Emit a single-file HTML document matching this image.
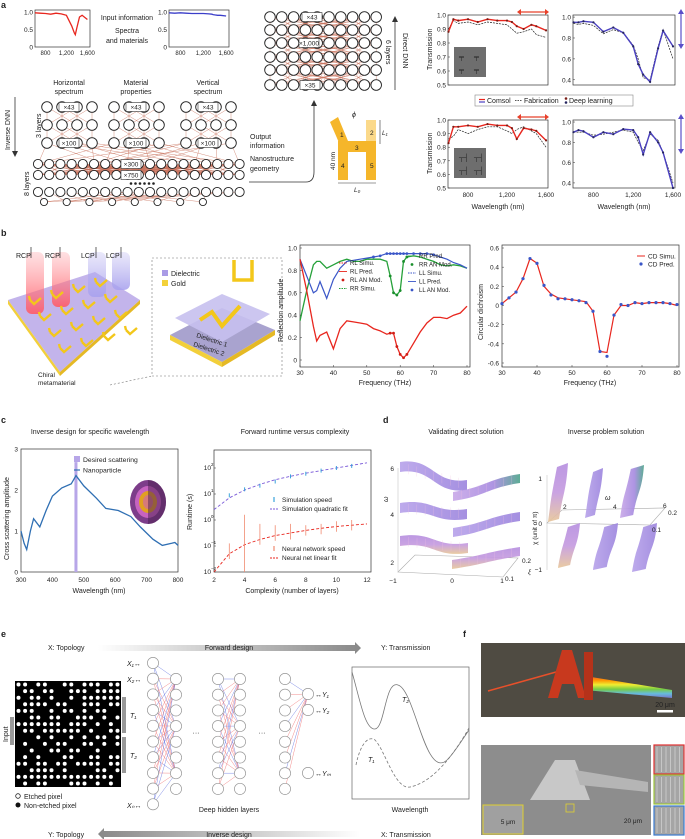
<!DOCTYPE html>
<html><head><meta charset="utf-8"><style>
html,body{margin:0;padding:0;background:#fff}
svg{display:block;font-family:"Liberation Sans",sans-serif}
text{fill:#222}
</style></head><body>
<svg id="fig" width="685" height="839" viewBox="0 0 685 839" xmlns="http://www.w3.org/2000/svg">
<defs>
<linearGradient id="gfwd" x1="0" x2="1"><stop offset="0" stop-color="#fff"/><stop offset="1" stop-color="#888"/></linearGradient>
<linearGradient id="ginv" x1="0" x2="1"><stop offset="0" stop-color="#888"/><stop offset="1" stop-color="#fff"/></linearGradient>
<linearGradient id="gred" x1="0" y1="0" x2="0" y2="1"><stop offset="0" stop-color="#ff9aa0" stop-opacity=".3"/><stop offset="1" stop-color="#ff5a66" stop-opacity=".9"/></linearGradient>
<linearGradient id="gblue" x1="0" y1="0" x2="0" y2="1"><stop offset="0" stop-color="#b9b4f0" stop-opacity=".3"/><stop offset="1" stop-color="#a9a2ee" stop-opacity=".9"/></linearGradient>
<linearGradient id="gsurf" x1="0" x2="1"><stop offset="0" stop-color="#c9a9e8"/><stop offset=".6" stop-color="#a78be0"/><stop offset="1" stop-color="#4fa58c"/></linearGradient>
<linearGradient id="gsurf2" x1="0" y1="1" x2="0" y2="0"><stop offset="0" stop-color="#e8c79a"/><stop offset=".5" stop-color="#c59be0"/><stop offset="1" stop-color="#b68fe0"/></linearGradient>
<linearGradient id="gsurf3" x1="0" x2="1"><stop offset="0" stop-color="#b8a3ea"/><stop offset="1" stop-color="#9d86de"/></linearGradient>
<linearGradient id="grain" x1="0" y1="0" x2="0" y2="1"><stop offset="0" stop-color="#e53"/><stop offset=".2" stop-color="#f90"/><stop offset=".4" stop-color="#ee3"/><stop offset=".6" stop-color="#7c4"/><stop offset=".8" stop-color="#6bd"/><stop offset="1" stop-color="#77c"/></linearGradient>
</defs>
<g id="labels" font-weight="bold" font-size="9">
<text x="1" y="8">a</text>
<text x="1" y="236">b</text>
<text x="1" y="423">c</text>
<text x="383" y="423">d</text>
<text x="1" y="637">e</text>
<text x="463" y="637">f</text>
</g>
<g id="root"></g>
</svg>
<script>
// ---------- DATA ----------
const smallWl=[600,700,800,900,1000,1100,1200,1300,1350,1370,1400,1450,1500,1600];
const smallRed=[0.97,0.96,0.95,0.93,0.96,0.94,0.9,0.6,0.4,0.35,0.55,0.85,0.9,0.78];
const smallBlue=[0.97,0.96,0.97,0.96,0.95,0.95,0.95,0.94,0.93,0.92,0.91,0.9,0.9,0.88];
const aWl=[600,650,700,800,900,1000,1100,1200,1250,1300,1370,1450,1500,1600];
const aTLred=[0.88,0.97,0.96,0.97,0.95,0.97,0.96,0.96,0.95,0.92,0.9,0.93,0.92,0.89];
const aTLfab=[0.9,0.96,0.94,0.95,0.93,0.95,0.94,0.93,0.9,0.87,0.88,0.9,0.86,0.84];
const aTRblue=[0.95,0.95,0.96,0.95,0.86,0.9,0.85,0.72,0.55,0.45,0.38,0.7,0.87,0.72];
const aTRfab=[0.94,0.93,0.94,0.92,0.84,0.88,0.85,0.73,0.6,0.42,0.4,0.72,0.88,0.6];
const aBLred=[0.83,0.95,0.95,0.96,0.95,0.97,0.96,0.96,0.94,0.86,0.94,0.93,0.92,0.85];
const aBLfab=[0.86,0.88,0.93,0.9,0.93,0.95,0.95,0.92,0.9,0.93,0.95,0.92,0.9,0.8];
const aBRblue=[0.9,0.92,0.91,0.85,0.9,0.88,0.93,0.92,0.85,0.68,0.9,0.8,0.7,0.35];
const aBRfab=[0.9,0.9,0.9,0.87,0.88,0.9,0.92,0.9,0.8,0.72,0.88,0.82,0.7,0.4];
const tickWl=[800,1200,1600];
const tickWlLabels=["800","1,200","1,600"];

const bFreq=[30,32,34,35,36,38,40,42,44,46,48,50,52,54,56,57,58,59,60,61,62,64,66,68,70,72,74,76,78,80];
const bRL=[0.9,0.62,0.3,0.17,0.22,0.25,0.1,0.28,0.35,0.34,0.33,0.32,0.28,0.26,0.23,0.24,0.24,0.12,0.05,0.02,0.05,0.15,0.25,0.33,0.38,0.38,0.37,0.4,0.42,0.48];
const bRR=[0.35,0.62,0.85,0.88,0.88,0.82,0.85,0.88,0.9,0.88,0.88,0.9,0.9,0.9,0.88,0.75,0.6,0.58,0.62,0.88,0.92,0.93,0.92,0.9,0.88,0.85,0.84,0.85,0.84,0.82];
const bLL=[0.9,0.75,0.6,0.62,0.7,0.55,0.72,0.82,0.88,0.89,0.9,0.91,0.92,0.93,0.95,0.95,0.95,0.95,0.95,0.95,0.95,0.95,0.95,0.95,0.94,0.92,0.9,0.87,0.85,0.82];
const cdFreq=[30,32,34,36,38,40,42,44,46,48,50,52,54,56,58,60,62,64,66,68,70,72,74,76,78,80];
const cdSim=[0.02,0.08,0.14,0.28,0.49,0.44,0.2,0.12,0.08,0.07,0.06,0.05,0.04,-0.06,-0.48,-0.49,-0.1,0.0,0.0,0.03,0.02,0.03,0.03,0.03,0.02,0.0];
const cdPred=[0.02,0.08,0.14,0.28,0.49,0.44,0.21,0.11,0.07,0.07,0.06,0.05,0.03,-0.06,-0.48,-0.53,-0.1,0.01,0.0,0.03,0.02,0.03,0.03,0.03,0.02,0.01];

const cWl=[300,310,318,330,340,360,380,400,430,460,475,500,540,570,610,650,680,720,750,780,790,800];
const cScat=[1.0,0.7,0.55,1.0,1.3,1.1,1.5,1.85,2.05,2.15,2.35,2.1,1.8,1.55,1.5,1.35,1.1,0.8,0.65,0.7,0.72,0.65];
const cDesiredWl=475, cDesiredAmp=2.68;
const rtLayers=[2,3,4,5,6,7,8,9,10,11,12];
const rtSimFit=[0.4,0.85,1.15,1.37,1.55,1.68,1.8,1.9,2.0,2.1,2.2];
const rtNNFit=[-2,-1.3,-0.95,-0.75,-0.6,-0.5,-0.4,-0.32,-0.25,-0.2,-0.15];
const rtSimPts=[3,4,5,6,7,8,9,10,11];
const rtSimVals=[0.95,1.18,1.32,1.48,1.68,1.78,1.9,2.0,2.08];
const rtNNVals=[-1.2,-0.9,-0.55,-0.5,-0.45,-0.4,-0.35,-0.25,-0.2];
const rtNNErr=[0.3,1.1,0.4,0.3,0.3,0.2,0.2,0.2,0.2];

// ---------- HELPERS ----------
const NS="http://www.w3.org/2000/svg";
const root=document.getElementById('root');
function el(tag,attrs,parent){const e=document.createElementNS(NS,tag);for(const k in attrs)e.setAttribute(k,attrs[k]);(parent||root).appendChild(e);return e;}
function txt(x,y,s,attrs,parent){const t=el('text',Object.assign({x:x,y:y,'font-size':7},attrs||{}),parent);t.textContent=s;return t;}
function lin(d0,d1,r0,r1){return v=>r0+(v-d0)*(r1-r0)/(d1-d0);}
function poly(xs,ys,sx,sy,attrs,parent){let d='';for(let i=0;i<xs.length;i++)d+=(i?'L':'M')+sx(xs[i]).toFixed(1)+' '+sy(ys[i]).toFixed(1);return el('path',Object.assign({d:d,fill:'none'},attrs),parent);}
function box(x0,y0,x1,y1,parent){return el('rect',{x:x0,y:y0,width:x1-x0,height:y1-y0,fill:'none',stroke:'#333','stroke-width':0.7},parent);}

// ---------- PANEL A ----------
const gA=el('g',{});


function smallPlot(x0,x1,ys,color,name){
  const g=el('g',{},gA);
  
  
  const sx=lin(600,1650,x0,x1), sy=lin(0,1.05,47,10);
  box(x0,10,x1,47,g);
  [[1,'1.0'],[0.5,'0.5'],[0,'0']].forEach(t=>{txt(x0-2,sy(t[0])+2.5,t[1],{'text-anchor':'end','font-size':6.5},g);});
  tickWl.forEach((w,i)=>txt(sx(w),55,tickWlLabels[i],{'text-anchor':'middle','font-size':6},g));
  poly(smallWl,ys,sx,sy,{stroke:color,'stroke-width':1.3},g);
}
smallPlot(35,90,smallRed,'#e8261e','input-spectrum-horizontal');
smallPlot(169,229,smallBlue,'#3b3ec9','input-spectrum-vertical');
txt(127,20,'Input information',{'text-anchor':'middle'},gA);
txt(127,33,'Spectra',{'text-anchor':'middle'},gA);
txt(127,43,'and materials',{'text-anchor':'middle'},gA);

function circleRow(cx0,dx,n,cy,r,parent){for(let i=0;i<n;i++)el('circle',{cx:cx0+i*dx,cy:cy,r:r,fill:'#fff',stroke:'#222','stroke-width':0.9},parent);}
function linksRows(xs0,dx0,n0,y0,xs1,dx1,n1,y1,parent,col){for(let i=0;i<n0;i++)for(let j=0;j<n1;j+=1){if((i+j)%3)continue;el('line',{x1:xs0+i*dx0,y1:y0,x2:xs1+j*dx1,y2:y1,stroke:col||'#c9745e','stroke-width':0.4},parent);}}
function labelBox(cx,cy,s,parent){el('rect',{x:cx-10,y:cy-4.5,width:20,height:9,fill:'#fff',stroke:'#333','stroke-width':0.6},parent);txt(cx,cy+2.5,s,{'text-anchor':'middle','font-size':6.5},parent);}
const gD=el('g',{},gA);


const dRows=[17,30,43,57,70,85];
for(let r=0;r<dRows.length-1;r++)linksRows(270,11.8,10,dRows[r],270,11.8,10,dRows[r+1],gD);
dRows.forEach(y=>circleRow(270,11.8,10,y,5.3,gD));
labelBox(312,17,'×43',gD);labelBox(309,43,'×1,000',gD);labelBox(310,85,'×35',gD);
el('line',{x1:395,y1:90,x2:395,y2:20,stroke:'#333','stroke-width':0.8},gA);
el('path',{d:'M392 22 L395 16 L398 22Z',fill:'#333'},gA);
txt(0,0,'Direct DNN',{transform:'translate(403,33) rotate(90)'},gA);
txt(0,0,'6 layers',{transform:'translate(386,40) rotate(90)'},gA);
const gI=el('g',{},gA);


[['Horizontal',69],['Material',136],['Vertical',208]].forEach(h=>txt(h[1],85,h[0],{'text-anchor':'middle'},gI));
txt(69,94,'spectrum',{'text-anchor':'middle'},gI);txt(136,94,'properties',{'text-anchor':'middle'},gI);txt(208,94,'spectrum',{'text-anchor':'middle'},gI);
const grpX=[47,114,186], gRows=[107,125,143];
const bigRows=[164,175,192];
grpX.forEach(gx=>{for(let i=0;i<3;i++)for(let a=0;a<4;a++)for(let b=0;b<4;b++)if((a+b)%2==0)el('line',{x1:gx+a*15,y1:gRows[i],x2:i<2?gx+b*15:38+(a*5+b*3)%19*11.2,y2:gRows[i+1]||bigRows[0],stroke:'#c9745e','stroke-width':0.4},gI);});
linksRows(38,11.2,19,bigRows[0],38,11.2,19,bigRows[1],gI);
for(let j=0;j<19;j++)el('line',{x1:38+j*11.2,y1:bigRows[2],x2:44+(j%8)*22.7,y2:202,stroke:'#c9745e','stroke-width':0.4},gI);
grpX.forEach(gx=>{gRows.forEach(y=>circleRow(gx,15,4,y,5.3,gI));labelBox(gx+22,107,'×43',gI);labelBox(gx+22,143,'×100',gI);});
bigRows.forEach(y=>circleRow(38,11.2,19,y,4.6,gI));
for(let i=0;i<6;i++)el('circle',{cx:131+i*4.5,cy:183.5,r:1.3,fill:'#222'},gI);
labelBox(131,164,'×300',gI);labelBox(131,175,'×750',gI);
circleRow(44,22.7,8,202,3.6,gI);
txt(0,0,'Inverse DNN',{transform:'translate(10,150) rotate(-90)'},gA);
el('line',{x1:15,y1:97,x2:15,y2:153,stroke:'#333','stroke-width':0.8},gA);
el('path',{d:'M12 151 L15 157 L18 151Z',fill:'#333'},gA);
txt(0,0,'3 layers',{transform:'translate(41,138) rotate(-90)'},gA);
txt(0,0,'8 layers',{transform:'translate(29,196) rotate(-90)'},gA);
txt(250,139,'Output',{},gA);txt(250,148,'information',{},gA);txt(250,161,'Nanostructure',{},gA);txt(250,171,'geometry',{},gA);
el('path',{d:'M249 182 L306 182 Q314 182 314 172 L314 104',fill:'none',stroke:'#333','stroke-width':0.8},gA);
el('path',{d:'M311 106 L314 100 L317 106Z',fill:'#333'},gA);
const gH=el('g',{},gA);


el('path',{d:'M330 122 L338 117 L348 141 L340 145Z',fill:'#f5b62a'},gH);
el('rect',{x:366,y:120,width:10,height:24,fill:'#fbd98a'},gH);
el('rect',{x:338,y:141,width:38,height:11,fill:'#f5b62a'},gH);
el('rect',{x:338,y:152,width:10,height:28,fill:'#f5b62a'},gH);
el('rect',{x:366,y:152,width:10,height:28,fill:'#f5b62a'},gH);
[['1',340,137],['2',370,135],['3',355,150],['4',341,168],['5',370,168]].forEach(t=>txt(t[1],t[2],t[0],{'font-size':6.5},gH));
txt(352,117,'ϕ',{'font-size':7,'font-style':'italic'},gH);
txt(0,0,'40 nm',{transform:'translate(335,170) rotate(-90)','font-size':6.5},gH);
el('line',{x1:338,y1:183,x2:376,y2:183,stroke:'#333','stroke-width':0.6},gH);
txt(354,192,'L₀',{'font-size':6.5,'font-style':'italic'},gH);
el('line',{x1:380,y1:120,x2:380,y2:144,stroke:'#333','stroke-width':0.6},gH);
txt(382,135,'L₁',{'font-size':6.5,'font-style':'italic'},gH);

function tPlot(x0,x1,y0,y1,vmin,vmax,ticks,sim,fab,dl,color,name,showX,showY){
  const g=el('g',{},gA);
  
  
  const sx=lin(595,1620,x0,x1), sy=lin(vmin,vmax,y1,y0);
  box(x0,y0,x1,y1,g);
  ticks.forEach(t=>{txt(x0-2,sy(t)+2.5,t.toFixed(1),{'text-anchor':'end','font-size':6.5},g);el('line',{x1:x0,y1:sy(t),x2:x0+2,y2:sy(t),stroke:'#333','stroke-width':0.5},g);});
  if(showX)tickWl.forEach((w,i)=>txt(sx(w),y1+9,tickWlLabels[i],{'text-anchor':'middle','font-size':6.5},g));
  poly(aWl,fab,sx,sy,{stroke:'#222','stroke-width':0.7,'stroke-dasharray':'2,1'},g);
  poly(aWl,sim,sx,sy,{stroke:color,'stroke-width':1.4},g);
  aWl.forEach((w,i)=>el('circle',{cx:sx(w),cy:sy(dl[i]),r:1.1,fill:color=='#e8261e'?'#7a1d16':'#25255e'},g));
  if(showY)txt(0,0,'Transmission',{transform:`translate(${x0-16},${(y0+y1)/2+20}) rotate(-90)`},g);
  return g;
}
tPlot(448,548,15,85,0.5,1.0,[1.0,0.9,0.8,0.7,0.6,0.5],aTLred,aTLfab,aTLred,'#e8261e','transmission-plot-tl',false,true);
tPlot(573,675,15,85,0.35,1.02,[1.0,0.8,0.6,0.4],aTRblue,aTRfab,aTRblue,'#4a40c0','transmission-plot-tr',false,false);
tPlot(448,548,120,188,0.5,1.0,[1.0,0.9,0.8,0.7,0.6,0.5],aBLred,aBLfab,aBLred,'#e8261e','transmission-plot-bl',true,true);
tPlot(573,675,120,188,0.35,1.02,[1.0,0.8,0.6,0.4],aBRblue,aBRfab,aBRblue,'#4a40c0','transmission-plot-br',true,false);
txt(498,209,'Wavelength (nm)',{'text-anchor':'middle'},gA);txt(624,209,'Wavelength (nm)',{'text-anchor':'middle'},gA);
[[454,47],[454,148]].forEach((p,i)=>{const r=el('rect',{x:p[0],y:p[1],width:32,height:30,fill:'#6e6e6e'},gA);for(let a=0;a<2;a++)for(let b=0;b<2;b++)txt(p[0]+5+a*15,p[1]+12+b*13,i?'┬┤':'╤',{'font-size':7,fill:'#eee'},gA);});
[[4],[109]].forEach(q=>{el('line',{x1:521,y1:q[0]+8,x2:545,y2:q[0]+8,stroke:'#e8402a','stroke-width':1.2},gA);el('path',{d:`M521 ${q[0]+5} L517 ${q[0]+8} L521 ${q[0]+11}Z M545 ${q[0]+5} L549 ${q[0]+8} L545 ${q[0]+11}Z`,fill:'#e8402a'},gA);
el('line',{x1:681,y1:q[0]+10,x2:681,y2:q[0]+40,stroke:'#5a4fc9','stroke-width':1.2},gA);el('path',{d:`M678 ${q[0]+10} L681 ${q[0]+5} L684 ${q[0]+10}Z M678 ${q[0]+40} L681 ${q[0]+45} L684 ${q[0]+40}Z`,fill:'#5a4fc9'},gA);});
const lg=el('g',{},gA);


el('rect',{x:475,y:95,width:158,height:11,fill:'#fff',stroke:'#888','stroke-width':0.6},lg);
el('line',{x1:479,y1:99.5,x2:485,y2:99.5,stroke:'#e8261e','stroke-width':1.2},lg);el('line',{x1:479,y1:102,x2:485,y2:102,stroke:'#4a40c0','stroke-width':1.2},lg);
txt(487,103,'Comsol',{},lg);
el('line',{x1:515,y1:100.5,x2:522,y2:100.5,stroke:'#222','stroke-width':0.8,'stroke-dasharray':'1.5,1'},lg);
txt(524,103,'Fabrication',{},lg);
el('circle',{cx:566,cy:98.5,r:1.3,fill:'#7a1d16'},lg);el('circle',{cx:566,cy:102.5,r:1.3,fill:'#25255e'},lg);
txt(569,103,'Deep learning',{},lg);

// ---------- PANEL B ----------
const gB=el('g',{});


const ill=el('g',{},gB);


el('path',{d:'M8 300 L95 272 L140 300 L60 372Z',fill:'#b9a7e8',opacity:.85},ill);
el('path',{d:'M8 300 L60 372 L60 376 L8 304Z',fill:'#f2cf3a'},ill);
el('path',{d:'M60 372 L140 300 L140 304 L60 376Z',fill:'#e5b925'},ill);
el('rect',{x:26,y:252,width:18,height:62,fill:'url(#gred)',rx:6},ill);
el('rect',{x:52,y:252,width:18,height:55,fill:'url(#gred)',rx:6},ill);
el('rect',{x:88,y:252,width:18,height:45,fill:'url(#gblue)',rx:6},ill);
el('rect',{x:112,y:252,width:18,height:38,fill:'url(#gblue)',rx:6},ill);
for(let i=0;i<4;i++)for(let j=0;j<4;j++){const cx=30+i*22+j*10, cy=300+j*16-i*6;el('path',{d:`M${cx} ${cy} l4 4 l7 -6 M${cx} ${cy} l-1 -4`,stroke:'#f3c71a','stroke-width':2.4,fill:'none'},ill);}
[['RCP',16],['RCP',45],['LCP',81],['LCP',106]].forEach(r=>{txt(r[1],258,r[0],{'font-size':7},ill);el('line',{x1:r[1]+15,y1:247,x2:r[1]+15,y2:258,stroke:'#222','stroke-width':0.7},ill);});
txt(38,377,'Chiral',{'font-size':6.5},ill);txt(38,385,'metamaterial',{'font-size':6.5},ill);
el('rect',{x:152,y:258,width:130,height:118,fill:'none',stroke:'#777','stroke-width':0.6,'stroke-dasharray':'2,2'},ill);
el('line',{x1:110,y1:385,x2:152,y2:376,stroke:'#777','stroke-width':0.6,'stroke-dasharray':'2,2'},ill);
el('rect',{x:162,y:270,width:6,height:6,fill:'#a99be6'},ill);txt(171,276,'Dielectric',{'font-size':7},ill);
el('rect',{x:162,y:280,width:6,height:6,fill:'#f3d13a'},ill);txt(171,286,'Gold',{'font-size':7},ill);
el('path',{d:'M234 260 L234 280 L252 280 L252 260',fill:'none',stroke:'#f3c71a','stroke-width':3.5},ill);
el('path',{d:'M170 335 L222 308 L275 330 L222 362Z',fill:'#a9a3cf'},ill);
el('path',{d:'M170 335 L222 362 L222 367 L170 340Z',fill:'#f2cf3a'},ill);
el('path',{d:'M222 362 L275 330 L275 335 L222 367Z',fill:'#e5b925'},ill);
el('path',{d:'M175 318 L222 294 L270 314 L222 342Z',fill:'#c7c0ee',opacity:.9},ill);
el('path',{d:'M200 320 L212 312 L222 326 L240 306',stroke:'#f3c71a','stroke-width':4,fill:'none'},ill);
txt(0,0,'Dielectric 1',{transform:'translate(196,337) rotate(18)','font-size':6.5,fill:'#fff'},ill);
txt(0,0,'Dielectric 2',{transform:'translate(193,346) rotate(18)','font-size':6.5,fill:'#fff'},ill);

const gR=el('g',{},gB);


{const sx=lin(30,80,300,467), sy=lin(0,1,360,248);
 box(300,245,470,367,gR);
 [0,0.2,0.4,0.6,0.8,1.0].forEach(t=>{txt(297,sy(t)+2.5,t===0?'0':t.toFixed(1),{'text-anchor':'end','font-size':6.5},gR);el('line',{x1:300,y1:sy(t),x2:302,y2:sy(t),stroke:'#333','stroke-width':0.5},gR);});
 [30,40,50,60,70,80].forEach(t=>{txt(sx(t),375,String(t),{'text-anchor':'middle','font-size':6.5},gR);el('line',{x1:sx(t),y1:367,x2:sx(t),y2:365,stroke:'#333','stroke-width':0.5},gR);});
 txt(385,385,'Frequency (THz)',{'text-anchor':'middle'},gR);
 txt(0,0,'Reflection amplitude',{transform:'translate(283,342) rotate(-90)'},gR);
 poly(bFreq,bRR,sx,sy,{stroke:'#26a13a','stroke-width':1.3},gR);
 poly(bFreq,bLL,sx,sy,{stroke:'#3a56c8','stroke-width':1.2},gR);
 poly(bFreq,bRL,sx,sy,{stroke:'#e8261e','stroke-width':1.3},gR);
 bFreq.forEach((f,i)=>{if(f>=57&&f<=62){el('circle',{cx:sx(f),cy:sy(bRR[i]),r:1.4,fill:'#1a8f2c'},gR);el('circle',{cx:sx(f),cy:sy(bRL[i]),r:1.4,fill:'#d01d15'},gR);}});
 bFreq.forEach((f,i)=>{if(f>=52&&f<=70)el('circle',{cx:sx(f),cy:sy(bLL[i]),r:1.4,fill:'#3a56c8'},gR);});
 const L=[['RL Simu.','#e8261e',1],['RL Pred.','#e8261e',0],['RL AN Mod.','#d01d15',2],['RR Simu.','#26a13a',1]];
 L.forEach((e,i)=>{const y=265+i*8.5;if(e[2]==2)el('circle',{cx:343,cy:y-2,r:1.4,fill:e[1]},gR);else el('line',{x1:339,y1:y-2,x2:347,y2:y-2,stroke:e[1],'stroke-width':0.9,'stroke-dasharray':e[2]?'1.5,1':''},gR);txt(350,y,e[0],{'font-size':6},gR);});
 const L2=[['RR Pred.','#26a13a',0],['RR AN Mod.','#1a8f2c',2],['LL Simu.','#3a56c8',1],['LL Pred.','#3a56c8',0],['LL AN Mod.','#3a56c8',2]];
 L2.forEach((e,i)=>{const y=258+i*8.5;if(e[2]==2)el('circle',{cx:412,cy:y-2,r:1.4,fill:e[1]},gR);else el('line',{x1:408,y1:y-2,x2:416,y2:y-2,stroke:e[1],'stroke-width':0.9,'stroke-dasharray':e[2]?'1.5,1':''},gR);txt(419,y,e[0],{'font-size':6},gR);});
}
const gC=el('g',{},gB);


{const sx=lin(30,80,502,677), sy=lin(-0.6,0.6,363,248);
 box(502,245,679,367,gC);
 [-0.6,-0.4,-0.2,0,0.2,0.4,0.6].forEach(t=>{txt(499,sy(t)+2.5,t===0?'0':t.toFixed(1),{'text-anchor':'end','font-size':6.5},gC);el('line',{x1:502,y1:sy(t),x2:504,y2:sy(t),stroke:'#333','stroke-width':0.5},gC);});
 [30,40,50,60,70,80].forEach(t=>{txt(sx(t),375,String(t),{'text-anchor':'middle','font-size':6.5},gC);el('line',{x1:sx(t),y1:367,x2:sx(t),y2:365,stroke:'#333','stroke-width':0.5},gC);});
 txt(590,385,'Frequency (THz)',{'text-anchor':'middle'},gC);
 txt(0,0,'Circular dichroism',{transform:'translate(483,340) rotate(-90)'},gC);
 poly(cdFreq,cdSim,sx,sy,{stroke:'#e8261e','stroke-width':1.2},gC);
 cdFreq.forEach((f,i)=>el('circle',{cx:sx(f),cy:sy(cdPred[i]),r:1.6,fill:'#3a56c8'},gC));
 el('line',{x1:637,y1:256,x2:645,y2:256,stroke:'#e8261e','stroke-width':1},gC);txt(648,258.5,'CD Simu.',{'font-size':6.5},gC);
 el('circle',{cx:641,cy:264,r:1.6,fill:'#3a56c8'},gC);txt(648,266.5,'CD Pred.',{'font-size':6.5},gC);
}

// ---------- PANEL C ----------
const gCp=el('g',{});


txt(90,434,'Inverse design for specific wavelength',{'text-anchor':'middle','font-size':7},gCp);
txt(295,434,'Forward runtime versus complexity',{'text-anchor':'middle','font-size':7},gCp);
const gS=el('g',{},gCp);


{const sx=lin(300,800,21,178), sy=lin(0,3,572,449);
 box(21,449,178,572,gS);
 [0,1,2,3].forEach(t=>txt(18,sy(t)+2.5,String(t),{'text-anchor':'end','font-size':6.5},gS));
 [300,400,500,600,700,800].forEach(t=>txt(sx(t),582,String(t),{'text-anchor':'middle','font-size':6.5},gS));
 txt(99,593,'Wavelength (nm)',{'text-anchor':'middle'},gS);
 txt(0,0,'Cross scattering amplitude',{transform:'translate(9,560) rotate(-90)'},gS);
 el('rect',{x:sx(cDesiredWl)-1.5,y:sy(cDesiredAmp),width:3,height:sy(0)-sy(cDesiredAmp),fill:'#b7a6e8'},gS);
 poly(cWl,cScat,sx,sy,{stroke:'#2f6fb3','stroke-width':1.3},gS);
 el('rect',{x:74,y:456,width:6,height:6,fill:'#b7a6e8'},gS);txt(83,462,'Desired scattering',{'font-size':6.8},gS);
 el('line',{x1:74,y1:470,x2:80,y2:470,stroke:'#2f6fb3','stroke-width':1.2},gS);txt(83,472.5,'Nanoparticle',{'font-size':6.8},gS);
 el('ellipse',{cx:148,cy:502,rx:18,ry:22,fill:'#7d3d8a'},gS);
 el('ellipse',{cx:148,cy:502,rx:13,ry:16,fill:'#c763c0'},gS);
 el('ellipse',{cx:148,cy:502,rx:9,ry:11,fill:'#e0a020'},gS);
 el('ellipse',{cx:148,cy:502,rx:5,ry:7,fill:'#d67a7a'},gS);
 el('path',{d:'M148 480 A18 22 0 0 1 148 524Z',fill:'#4a1f4d',opacity:.5},gS);
}
const gRt=el('g',{},gCp);


{const sx=lin(2,12,214,367), sy=lin(-2,2,572,468);
 box(214,450,371,572,gRt);
 [-2,-1,0,1,2].forEach(t=>{const y=sy(t);txt(211,y+2,'10',{'text-anchor':'end','font-size':6.5},gRt);txt(211,y-2,String(t).replace('-','−'),{'font-size':4.5},gRt);el('line',{x1:214,y1:y,x2:216,y2:y,stroke:'#333','stroke-width':0.5},gRt);});
 [2,4,6,8,10,12].forEach(t=>txt(sx(t),582,String(t),{'text-anchor':'middle','font-size':6.5},gRt));
 txt(292,593,'Complexity (number of layers)',{'text-anchor':'middle'},gRt);
 txt(0,0,'Runtime (s)',{transform:'translate(192,530) rotate(-90)'},gRt);
 poly(rtLayers,rtSimFit,sx,sy,{stroke:'#7a5ad8','stroke-width':0.9,'stroke-dasharray':'3,2'},gRt);
 poly(rtLayers,rtNNFit,sx,sy,{stroke:'#e8261e','stroke-width':0.9,'stroke-dasharray':'3,2'},gRt);
 rtSimPts.forEach((l,i)=>el('line',{x1:sx(l),y1:sy(rtSimVals[i])-2,x2:sx(l),y2:sy(rtSimVals[i])+2,stroke:'#3aa3dc','stroke-width':1},gRt));
 rtSimPts.forEach((l,i)=>el('line',{x1:sx(l),y1:sy(rtNNVals[i]+rtNNErr[i]),x2:sx(l),y2:sy(rtNNVals[i]-rtNNErr[i]),stroke:'#f08a70','stroke-width':0.8},gRt));
 el('line',{x1:274,y1:497,x2:274,y2:502,stroke:'#3aa3dc','stroke-width':1.2},gRt);txt(282,502,'Simulation speed',{'font-size':6.5},gRt);
 el('line',{x1:270,y1:509,x2:278,y2:509,stroke:'#7a5ad8','stroke-width':0.9,'stroke-dasharray':'2,1'},gRt);txt(282,511,'Simulation quadratic fit',{'font-size':6.5},gRt);
 el('line',{x1:274,y1:546,x2:274,y2:551,stroke:'#f08a70','stroke-width':1.2},gRt);txt(282,551,'Neural network speed',{'font-size':6.5},gRt);
 el('line',{x1:270,y1:558,x2:278,y2:558,stroke:'#e8261e','stroke-width':0.9,'stroke-dasharray':'2,1'},gRt);txt(282,560,'Neural net linear fit',{'font-size':6.5},gRt);
}

// ---------- PANEL D ----------
const gDd=el('g',{});


txt(466,434,'Validating direct solution',{'text-anchor':'middle','font-size':7},gDd);
txt(606,434,'Inverse problem solution',{'text-anchor':'middle','font-size':7},gDd);
// base plane
el('path',{d:'M398 572 L415 555 L518 558 L503 577Z',fill:'none',stroke:'#aaa','stroke-width':0.6},gDd);
el('line',{x1:398,y1:468,x2:398,y2:572,stroke:'#bbb','stroke-width':0.5},gDd);
// bands: x0,y0(top-left), x1,y1(top-right), thickness, fill
const sheets=[[400,462,467,480,10,'url(#gsurf3)'],[453,492,520,474,9,'url(#gsurf)'],[400,503,467,509,10,'url(#gsurf3)'],[453,528,520,512,9,'url(#gsurf3)'],[400,536,468,543,10,'url(#gsurf2)'],[452,560,520,547,9,'url(#gsurf2)']];
sheets.forEach((s,i)=>{const mx=(s[0]+s[2])/2,my=(s[1]+s[3])/2,h=s[4];
 const d=`M${s[0]} ${s[1]} C${mx} ${s[1]-5},${mx} ${s[3]+5},${s[2]} ${s[3]} L${s[2]} ${s[3]+h} C${mx} ${s[3]+h+5},${mx} ${s[1]+h-5},${s[0]} ${s[1]+h} Z`;
 const p=el('path',{d:d,fill:s[5],opacity:.92},gDd);
 for(let k=1;k<8;k++)el('line',{x1:s[0]+k*(s[2]-s[0])/8,y1:s[1]+k*(s[3]-s[1])/8,x2:s[0]+k*(s[2]-s[0])/8,y2:s[1]+k*(s[3]-s[1])/8+h,stroke:'#f0c0e0','stroke-width':0.4,opacity:.6},gDd);});
[['6',394,471],['4',394,517],['2',394,565]].forEach(t=>txt(t[1],t[2],t[0],{'font-size':6.5,'text-anchor':'end'},gDd));
txt(0,0,'ω',{transform:'translate(388,502) rotate(-90)','font-size':7,'font-style':'italic'},gDd);
[['−1',393],['0',452],['1',502]].forEach(t=>txt(t[1],583,t[0],{'font-size':6.5,'text-anchor':'middle'},gDd));
txt(522,563,'0.2',{'font-size':6.5},gDd);txt(505,581,'0.1',{'font-size':6.5},gDd);txt(528,574,'ξ',{'font-size':6.5,'font-style':'italic'},gDd);
// right
el('path',{d:'M547 523 L650 525 L665 508 L562 510Z',fill:'none',stroke:'#aaa','stroke-width':0.6},gDd);
el('line',{x1:547,y1:475,x2:547,y2:570,stroke:'#bbb','stroke-width':0.5},gDd);
const rs=[[548,522,568,463,'url(#gsurf2)'],[585,518,603,468,'url(#gsurf3)'],[620,518,644,465,'url(#gsurf)'],[558,568,580,523,'url(#gsurf2)'],[593,570,618,523,'url(#gsurf3)'],[632,572,657,523,'url(#gsurf3)']];
rs.forEach((s,i)=>{const w=(s[2]-s[0])*0.55;
 const d=`M${s[0]} ${s[1]} C${s[0]+4} ${(s[1]+s[3])/2},${s[2]-w-6} ${(s[1]+s[3])/2+6},${s[2]-w} ${s[3]+4} L${s[2]} ${s[3]} C${s[2]-2} ${(s[1]+s[3])/2},${s[0]+w+4} ${(s[1]+s[3])/2},${s[0]+w} ${s[1]-3} Z`;
 const p=el('path',{d:d,fill:s[4],opacity:.92},gDd);});
txt(542,481,'1',{'font-size':6.5,'text-anchor':'end'},gDd);txt(542,526,'0',{'font-size':6.5,'text-anchor':'end'},gDd);txt(542,572,'−1',{'font-size':6.5,'text-anchor':'end'},gDd);
txt(0,0,'χ (unit of π)',{transform:'translate(537,545) rotate(-90)','font-size':6.5},gDd);
txt(563,509,'2',{'font-size':6.5},gDd);txt(613,509,'4',{'font-size':6.5},gDd);txt(663,508,'6',{'font-size':6.5},gDd);
txt(605,500,'ω',{'font-size':7,'font-style':'italic'},gDd);txt(668,515,'0.2',{'font-size':6.5},gDd);txt(652,532,'0.1',{'font-size':6.5},gDd);

// ---------- PANEL E ----------
const gE=el('g',{});


txt(48,650,'X: Topology',{'font-size':7},gE);
el('path',{d:'M98 645 L355 645 L355 642 L361 648 L355 654 L355 651 L98 651Z',fill:'url(#gfwd)'},gE);
txt(229,650,'Forward design',{'text-anchor':'middle','font-size':7},gE);
txt(381,650,'Y: Transmission',{'font-size':7},gE);
el('path',{d:'M104 828 L98 834 L104 840 L104 837 L360 837 L360 831 L104 831Z',fill:'url(#ginv)'},gE);
txt(229,837,'Inverse design',{'text-anchor':'middle','font-size':7},gE);
txt(48,837,'Y: Topology',{'font-size':7},gE);txt(381,837,'X: Transmission',{'font-size':7},gE);
const grid=el('g',{},gE);


el('rect',{x:15,y:681,width:106,height:106,fill:'#000'},grid);
const pat=['1101100110111011','0110110011101111','1011010010111111','0111101100111011','1110010110101100','0011011001110101','1111111011101010','0110111111010011','0001010010101101','0100101100110101','0010011011001000','0101000110011011','1101101101111011','0011110100001101','1111111111111110','0101100011101010'];
pat.forEach((r,i)=>{for(let j=0;j<16;j++)if(r[j]=='1')el('circle',{cx:18.5+j*6.6,cy:684.5+i*6.6,r:2,fill:'#fff'},grid);});
el('rect',{x:10,y:717,width:4,height:28,fill:'#999'},gE);txt(0,0,'Input',{transform:'translate(8,742) rotate(-90)','font-size':7},gE);
el('rect',{x:122,y:697,width:4,height:36,fill:'#999'},gE);el('rect',{x:122,y:737,width:4,height:36,fill:'#999'},gE);
txt(130,718,'T₁',{'font-size':7,'font-style':'italic'},gE);txt(130,758,'T₂',{'font-size':7,'font-style':'italic'},gE);
el('circle',{cx:18,cy:796,r:2.3,fill:'#fff',stroke:'#222','stroke-width':0.8},gE);txt(24,799,'Etched pixel',{'font-size':7},gE);
el('circle',{cx:18,cy:805,r:2.5,fill:'#111'},gE);txt(24,808,'Non-etched pixel',{'font-size':7},gE);
const net=el('g',{},gE);


const cols=[[153,663],[176,679],[218,679],[240,679],[285,679],[308,694]];
const colY=cols.map(c=>{if(c[0]==308)return[694,710,773];const n=c[0]==153?10:8;const a=[];for(let k=0;k<n;k++)a.push(c[1]+k*15.7);return a;});
[[0,1],[2,3],[4,5]].forEach(p=>{colY[p[0]].forEach((ya,i)=>colY[p[1]].forEach((yb,j)=>{if((i*3+j)%3)return;el('line',{x1:cols[p[0]][0],y1:ya,x2:cols[p[1]][0],y2:yb,stroke:(i+j)%3?'#f07070':'#6070e0','stroke-width':0.5,opacity:.8},net);}));});
cols.forEach((c,ci)=>colY[ci].forEach(y=>el('circle',{cx:c[0],cy:y,r:5.6,fill:'#fff',stroke:'#999','stroke-width':0.7},net)));
txt(196,735,'···',{'font-size':7,'text-anchor':'middle'},net);txt(262,735,'···',{'font-size':7,'text-anchor':'middle'},net);
[['X₁',663],['X₂',679],['Xₙ',805]].forEach(t=>txt(127,t[1]+3,t[0]+'↔',{'font-size':7,'font-style':'italic'},net));
[['Y₁',694],['Y₂',710],['Yₘ',773]].forEach(t=>txt(315,t[1]+3,'↔'+t[0],{'font-size':7,'font-style':'italic'},net));
txt(229,812,'Deep hidden layers',{'text-anchor':'middle','font-size':7},gE);
const tb=el('g',{},gE);


el('rect',{x:352,y:667,width:117,height:132,fill:'none',stroke:'#666','stroke-width':0.7},tb);
el('path',{d:'M352 672 C360 700,365 730,375 729 C385 728,385 680,398 685 C415 690,425 780,447 760 C455 752,462 740,469 730',fill:'none',stroke:'#777','stroke-width':0.8},tb);
el('path',{d:'M356 765 C360 745,368 735,375 740 C385 750,395 790,410 787 C425 784,445 770,469 728',fill:'none',stroke:'#777','stroke-width':0.8,'stroke-dasharray':'3,2'},tb);
txt(402,702,'T₂',{'font-size':7,'font-style':'italic'},tb);txt(368,762,'T₁',{'font-size':7,'font-style':'italic'},tb);
txt(410,812,'Wavelength',{'text-anchor':'middle','font-size':7},gE);

// ---------- PANEL F ----------
const gF=el('g',{});


const f1=el('g',{},gF);


el('rect',{x:481,y:643,width:204,height:74,fill:'#4f4b42'},f1);
el('line',{x1:488,y1:691,x2:556,y2:672,stroke:'#e8502a','stroke-width':1.5},f1);
el('path',{d:'M585 676 L672 690 L672 698 L585 690Z',fill:'url(#grain)'},f1);
el('path',{d:'M548 698 L562 650 L572 650 L586 698 L578 698 L574 684 L562 684 L558 698Z',fill:'#c8391e'},f1);
el('rect',{x:584,y:652,width:9,height:48,fill:'#b5321a'},f1);
txt(665,707,'20 μm',{'font-size':7,fill:'#fff','text-anchor':'middle'},f1);
el('rect',{x:657,y:710,width:16,height:2.5,fill:'#fff'},f1);
const f2=el('g',{},gF);


el('rect',{x:481,y:745,width:170,height:90,fill:'#8d8d8d'},f2);
el('path',{d:'M530 800 L555 760 L575 760 L590 800 Z',fill:'#c8c8c8'},f2);
el('path',{d:'M575 770 L648 782 L648 792 L580 785Z',fill:'#b5b5b5'},f2);
el('rect',{x:483,y:805,width:40,height:29,fill:'#a0a0a0',stroke:'#e0d030','stroke-width':1},f2);
el('rect',{x:566,y:804,width:8,height:8,fill:'none',stroke:'#e0d030','stroke-width':0.8},f2);
txt(508,824,'5 μm',{'font-size':6.5,fill:'#fff','text-anchor':'middle'},f2);
txt(633,823,'20 μm',{'font-size':6.5,fill:'#fff','text-anchor':'middle'},f2);
[['#e03030',745],['#9cc43a',775],['#3a7ad0',806]].forEach((c,i)=>{const r=el('rect',{x:654,y:c[1],width:30,height:29,fill:'#a5a5a5',stroke:c[0],'stroke-width':1.2},f2);for(let k=0;k<6;k++)el('line',{x1:657+k*4.5,y1:c[1]+2,x2:657+k*4.5,y2:c[1]+27,stroke:'#ddd','stroke-width':0.6},f2);});
</script>
</body></html>
